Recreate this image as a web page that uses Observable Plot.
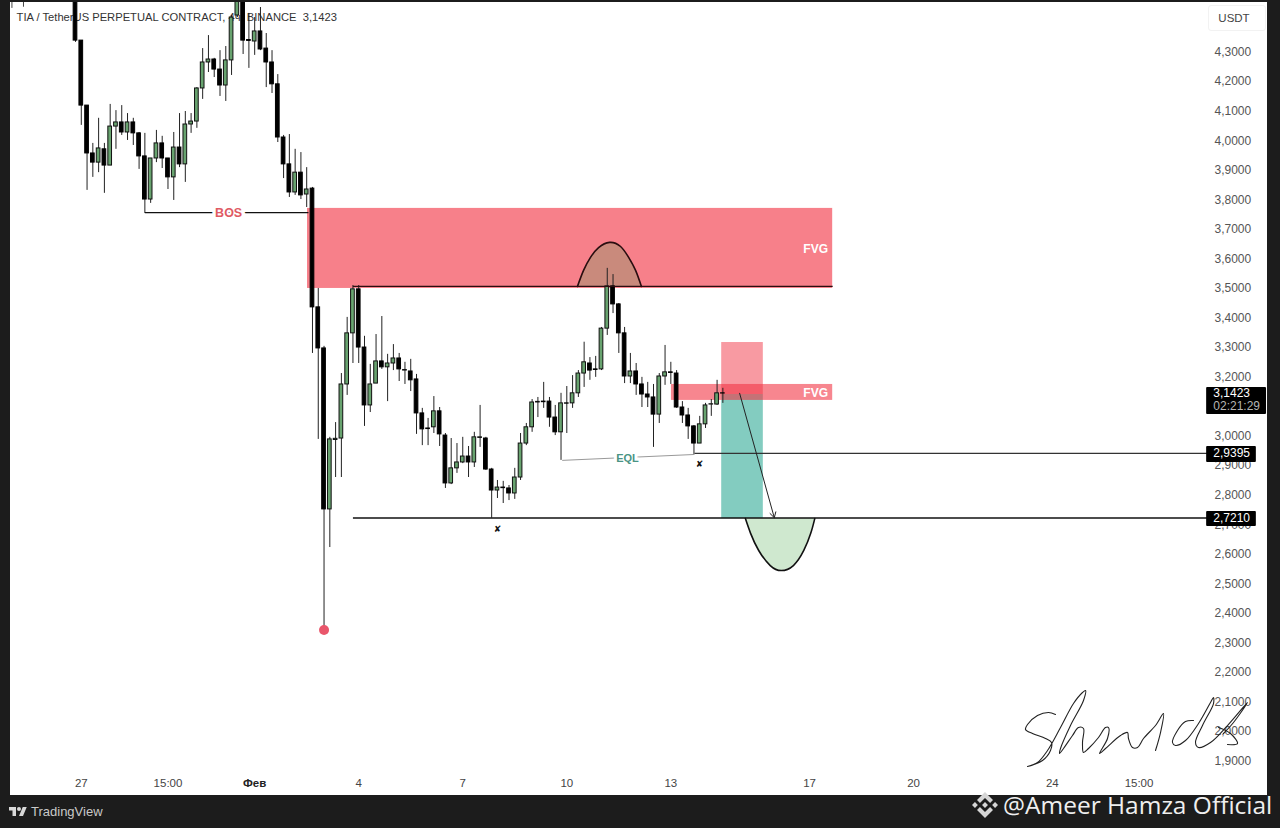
<!DOCTYPE html>
<html><head><meta charset="utf-8">
<script src="https://cdn.jsdelivr.net/npm/d3@7"></script>
<script src="https://cdn.jsdelivr.net/npm/@observablehq/plot@0.6"></script>
<style>
html,body{margin:0;padding:0;background:#1c1c1c;width:1280px;height:828px;overflow:hidden;font-family:"Liberation Sans",sans-serif}
#chart{position:absolute;left:10px;top:2px;width:1257px;height:793px;background:#fff}
#chart svg{display:block}
#usdt{position:absolute;left:1208px;top:5px;width:56px;height:24px;border:1px solid #f2f2f2;border-radius:3px;font-size:11.5px;color:#444;text-align:center;line-height:24px;background:#fff;text-indent:-6px}
#tv{position:absolute;left:9px;top:805px;display:flex;align-items:center;gap:4px;color:#c9c9c9;font-size:13px;line-height:13px}
#wm{position:absolute;left:972px;top:790px;display:flex;align-items:center;color:#efefef;font-size:24.5px;line-height:30px;white-space:nowrap;font-family:"Open Sans","Liberation Sans",sans-serif}
</style></head><body>
<div id="chart"></div>
<div id="usdt">USDT</div>
<div id="tv"><svg width="18" height="13" viewBox="0 0 36 26"><path fill="#d8d8d8" d="M14 22H7V11H0V4h14v18zM28 22h-8l7.5-18h8L28 22z"/><circle fill="#d8d8d8" cx="20" cy="8" r="4"/></svg><span>TradingView</span></div>
<div id="wm"><svg width="26" height="26" viewBox="0 0 126.61 126.61" style="margin-right:5px"><g fill="#d6d6d6"><path d="M38.73 53.2l24.59-24.58 24.6 24.6 14.3-14.31L63.32 0 24.42 38.9z"/><path d="M0 63.31l14.3-14.31 14.31 14.31-14.31 14.3z"/><path d="M38.73 73.41l24.59 24.59 24.6-24.6 14.31 14.29-38.9 38.91-38.91-38.88z"/><path d="M98 63.31l14.3-14.31 14.31 14.3-14.31 14.32z"/><path d="M77.83 63.3L63.32 48.78 52.59 59.51l-1.24 1.23-2.54 2.54 14.51 14.5 14.51-14.47z"/></g></svg><span>@Ameer Hamza Official</span></div>
<script>
// 4h candles, index 0 is the first full candle at the left edge of the picture
const opens = [4.507,4.337,4.117,3.955,3.924,3.969,3.914,4.046,4.060,4.026,4.060,4.023,3.945,3.799,3.938,3.989,3.938,3.874,3.975,3.918,4.053,4.063,4.175,4.263,4.273,4.239,4.185,4.270,4.422,4.490,4.339,4.334,4.368,4.310,4.263,4.189,4.009,3.918,3.823,3.890,3.816,3.836,3.434,3.295,2.750,2.985,2.990,3.173,3.346,3.495,3.298,3.102,3.176,3.251,3.231,3.244,3.261,3.220,3.217,3.190,3.075,3.024,3.028,3.082,3.000,2.838,2.889,2.909,2.929,2.909,2.992,2.990,2.885,2.814,2.824,2.821,2.804,2.858,2.973,3.028,3.112,3.115,3.115,3.061,3.011,3.109,3.109,3.143,3.210,3.244,3.224,3.224,3.362,3.505,3.444,3.346,3.200,3.217,3.173,3.139,3.129,3.071,3.200,3.214,3.210,3.095,3.068,3.031,2.973,3.038,3.105,3.105,3.143];
const highs = [4.600,4.337,4.117,3.989,4.074,3.989,4.121,4.100,4.117,4.090,4.074,4.026,4.023,3.938,4.033,4.013,3.938,4.026,4.090,4.097,4.090,4.178,4.310,4.354,4.277,4.303,4.317,4.422,4.550,4.550,4.429,4.415,4.449,4.361,4.303,4.222,4.016,4.019,3.969,3.958,3.907,3.840,3.498,3.302,2.994,3.044,3.210,3.400,3.508,3.508,3.336,3.241,3.342,3.403,3.275,3.308,3.278,3.248,3.258,3.207,3.092,3.058,3.132,3.095,3.007,2.990,2.973,2.994,2.963,3.011,3.102,2.994,2.889,2.848,2.845,2.831,2.889,3.007,3.041,3.122,3.129,3.180,3.129,3.102,3.143,3.166,3.203,3.220,3.316,3.264,3.268,3.366,3.566,3.545,3.447,3.366,3.278,3.244,3.197,3.180,3.173,3.210,3.305,3.248,3.220,3.115,3.092,3.034,3.065,3.109,3.122,3.187,3.160];
const lows = [4.331,4.050,3.830,3.874,3.890,3.820,3.914,3.969,4.016,3.999,3.982,3.901,3.752,3.786,3.924,3.904,3.833,3.796,3.907,3.857,4.023,4.040,4.138,4.229,4.212,4.148,4.131,4.219,4.415,4.290,4.243,4.287,4.303,4.178,4.158,3.992,3.870,3.806,3.813,3.799,3.772,3.278,2.987,2.340,2.621,2.858,2.858,3.136,3.244,3.244,3.031,3.078,3.176,3.224,3.115,3.220,3.183,3.173,3.149,3.004,2.966,2.966,3.007,2.963,2.821,2.834,2.872,2.905,2.858,2.892,2.960,2.882,2.720,2.787,2.770,2.780,2.784,2.848,2.966,3.011,3.061,3.092,3.028,3.000,2.916,3.007,3.092,3.129,3.163,3.187,3.197,3.220,3.339,3.413,3.278,3.176,3.176,3.136,3.095,3.095,2.960,3.041,3.170,3.173,3.092,3.041,2.987,2.936,2.973,3.024,3.065,3.102,3.109];
const closes = [4.337,4.117,3.955,3.924,3.972,3.914,4.046,4.060,4.026,4.060,4.023,3.945,3.799,3.938,3.989,3.938,3.874,3.975,3.918,4.053,4.063,4.175,4.263,4.273,4.239,4.185,4.270,4.415,4.490,4.337,4.336,4.368,4.307,4.263,4.189,4.009,3.918,3.823,3.890,3.813,3.833,3.434,3.295,2.750,2.987,2.989,3.173,3.346,3.495,3.298,3.102,3.173,3.251,3.231,3.244,3.261,3.224,3.222,3.187,3.075,3.021,3.022,3.082,3.004,2.838,2.889,2.909,2.929,2.909,2.994,2.994,2.885,2.814,2.824,2.822,2.804,2.858,2.973,3.028,3.112,3.114,3.113,3.061,3.011,3.109,3.108,3.143,3.210,3.248,3.220,3.222,3.362,3.505,3.444,3.346,3.200,3.217,3.173,3.139,3.129,3.071,3.200,3.214,3.212,3.095,3.068,3.031,2.973,3.038,3.102,3.106,3.143,3.1423];
const earlyWickIdx = [-11,-9];
const earlyWickLow = [4.446,4.450];

const yTicks = [1.9,2.0,2.1,2.2,2.3,2.4,2.5,2.6,2.7,2.8,2.9,3.0,3.1,3.2,3.3,3.4,3.5,3.6,3.7,3.8,3.9,4.0,4.1,4.2,4.3];
const xTickIdx = [1,16,49,67,85,103,127,145,169,184];
const xTickLabels = ["27","15:00","4","7","10","13","17","20","24","15:00"];
const boldTickIdx = [31];
const boldTickLabels = ["Фев"];

const upperDomeIdx = [86.85,87.9,89.1,90.5,92.4,94.3,95.7,96.9,97.9];
const upperDomePrice = [3.505,3.559,3.603,3.636,3.654,3.640,3.603,3.559,3.505];
const lowerDomeIdx = [115.9,116.8,118.2,120.2,122.1,124.2,126,127.2,127.9];
const lowerDomePrice = [2.719,2.669,2.611,2.560,2.543,2.560,2.611,2.669,2.719];

const zones = [
  {x1:40.14,x2:131,top:3.769,bottom:3.498,fill:"#f23645",op:.63},
  {x1:111.8,x2:119,top:3.315,bottom:3.139,fill:"#f23645",op:.5},
  {x1:111.8,x2:119,top:3.139,bottom:2.719,fill:"#089981",op:.5},
  {x1:103.1,x2:131,top:3.173,bottom:3.119,fill:"#f23645",op:.6}
];
const levels = [
  {x1:48,x2:131,p1:3.505,p2:3.505,c:"#2a0d10",w:1.4},
  {x1:107.1,x2:195.85,p1:2.9395,p2:2.9395,c:"#333",w:1.3},
  {x1:48,x2:195.85,p1:2.721,p2:2.721,c:"#111",w:1.3},
  {x1:12,x2:40.3,p1:3.755,p2:3.755,c:"#111",w:1.3},
  {x1:84.2,x2:107.1,p1:2.916,p2:2.936,c:"#999",w:1}
];
const tags = [
  {x2:206.06,top:3.163,bottom:3.071},
  {x2:204.3,top:2.963,bottom:2.909},
  {x2:204.3,top:2.743,bottom:2.692}
];
const tagLabels = [
  {p:3.145,t:"3,1423",c:"#fff"},
  {p:3.099,t:"02:21:29",c:"#b5b5b5"},
  {p:2.940,t:"2,9395",c:"#fff"},
  {p:2.722,t:"2,7210",c:"#fff"}
];
// signature strokes, picture points
const signature = [
 [[1055,714],[1048,712],[1037,715],[1027,724],[1025,729],[1032,733],[1045,738],[1051,742],[1050,750],[1042,760],[1027,766],[1037,762],[1047,750],[1060,727],[1073,703],[1082,692],[1085,690],[1083,700],[1070,725],[1060,748],[1059,753],[1063,748],[1072,735],[1078,727],[1083,728],[1082,742],[1083,752],[1088,748],[1098,737],[1105,727],[1108,727],[1107,738],[1099,753],[1105,748],[1120,735],[1127,732],[1128,738],[1132,747],[1137,747],[1143,738],[1155,725],[1163,713],[1160,732],[1155,750]],
 [[1193,720],[1185,721],[1177,730],[1172,742],[1175,745],[1185,740],[1198,723],[1210,702],[1213,697],[1213,703],[1202,725],[1195,742],[1198,747],[1210,742],[1227,725],[1247,702],[1233,722],[1223,733]],
 [[1218,727],[1230,733],[1237,743],[1227,744]]
];
const toIdx = px => (px - 75) / 5.78;
const toPrice = py => 4.4728 - py / 295.4;
const sigPts = signature.flatMap((s, k) => s.map(([a, b]) => ({k, x: toIdx(a), p: toPrice(b)})));

const candles = opens.map((o, i) => ({i, o, h: highs[i], l: lows[i], c: closes[i]}));
const up = candles.filter(d => d.c >= d.o);
const down = candles.filter(d => d.c < d.o);
const upperDome = upperDomeIdx.map((x, i) => ({x, p: upperDomePrice[i]}));
const lowerDome = lowerDomeIdx.map((x, i) => ({x, p: lowerDomePrice[i]}));
const fmt = v => v.toFixed(4).replace(".", ",");
const FONT = "Liberation Sans";

const chart = Plot.plot({
  width: 1257, height: 793,
  marginLeft: 0, marginRight: 60, marginTop: 0, marginBottom: 25,
  style: {background: "#fff", fontFamily: FONT, overflow: "hidden"},
  x: {type: "linear", domain: [-11.246, 195.848], axis: null},
  y: {type: "linear", domain: [1.8662, 4.466], axis: null},
  marks: [
    Plot.text(["TIA / TetherUS PERPETUAL CONTRACT, 4ч, BINANCE\u00a0\u00a03,1423"], {x: -10.2, y: 4.415, text: d => d, textAnchor: "start", fontSize: 11.2, fill: "#333"}),
    Plot.axisY(yTicks, {anchor: "right", tickSize: 0, tickPadding: 7, tickFormat: fmt, fontSize: 12, color: "#555", label: null, dy: 0.5}),
    Plot.axisX(xTickIdx, {anchor: "bottom", tickSize: 0, tickPadding: 8, tickFormat: d => xTickLabels[xTickIdx.indexOf(d)], fontSize: 11.5, color: "#444", label: null}),
    Plot.axisX(boldTickIdx, {anchor: "bottom", tickSize: 0, tickPadding: 8, tickFormat: d => boldTickLabels[boldTickIdx.indexOf(d)], fontSize: 11.5, fontWeight: "bold", color: "#222", label: null}),
    ...zones.map(z => Plot.rect([z], {x1: "x1", x2: "x2", y1: "bottom", y2: "top", fill: z.fill, fillOpacity: z.op})),
    Plot.areaY(upperDome, {x: "x", y1: () => 3.505, y2: "p", curve: "natural", fill: "#c98a7c"}),
    Plot.lineY(upperDome, {x: "x", y: "p", curve: "natural", stroke: "#2a0d10", strokeWidth: 1.6}),
    Plot.areaY(lowerDome, {x: "x", y1: () => 2.719, y2: "p", curve: "natural", fill: "#cfe8cf"}),
    Plot.lineY(lowerDome, {x: "x", y: "p", curve: "natural", stroke: "#111", strokeWidth: 1.6}),
    Plot.ruleX(earlyWickIdx, {x: d => d, y1: d => earlyWickLow[earlyWickIdx.indexOf(d)], y2: () => 4.55, stroke: "#444"}),
    Plot.ruleX(candles, {x: "i", y1: "l", y2: "h", stroke: "#222", strokeWidth: 1}),
    Plot.rect(up, {x1: d => d.i - .32, x2: d => d.i + .32, y1: "o", y2: "c", fill: "#68a36f", stroke: "#111", strokeWidth: 1}),
    Plot.rect(down, {x1: d => d.i - .32, x2: d => d.i + .32, y1: "o", y2: "c", fill: "#000", stroke: "#000", strokeWidth: 1}),
    ...levels.map(l => Plot.link([l], {x1: "x1", x2: "x2", y1: "p1", y2: "p2", stroke: l.c, strokeWidth: l.w})),
    Plot.text(["BOS"], {x: 26.5, y: 3.752, text: d => d, fontSize: 12.5, fontWeight: "bold", fill: "#df5a64", stroke: "#fff", strokeWidth: 7, paintOrder: "stroke"}),
    Plot.text(["EQL"], {x: 95.5, y: 2.922, text: d => d, fontSize: 11, fontWeight: "bold", fill: "#4a9484", stroke: "#fff", strokeWidth: 6, paintOrder: "stroke"}),
    Plot.text(["FVG"], {x: 128.05, y: 3.630, text: d => d, fontSize: 12, fontWeight: "bold", fill: "#fff"}),
    Plot.text(["FVG"], {x: 128.05, y: 3.142, text: d => d, fontSize: 12, fontWeight: "bold", fill: "#fff"}),
    Plot.text([[73, 2.685], [107.96, 2.902]], {x: d => d[0], y: d => d[1], text: () => "✘", fontFamily: "DejaVu Sans", fontSize: 9, fill: "#111"}),
    Plot.arrow([{a: 114.9, b: 3.143, c: 120.9, d: 2.722}], {x1: "a", y1: "b", x2: "c", y2: "d", bend: 0, stroke: "#222", strokeWidth: 1, headLength: 9}),
    Plot.dot([{x: 43, p: 2.342}], {x: "x", y: "p", r: 5, fill: "#e9566b"}),
    ...tags.map(t => Plot.rect([t], {x1: () => 195.7, x2: "x2", y1: "bottom", y2: "top", fill: "#000", rx: 1})),
    Plot.text(tagLabels, {x: () => 196.85, y: "p", text: "t", fill: "c", textAnchor: "start", fontSize: 12}),
    Plot.line(sigPts, {x: "x", y: "p", z: "k", curve: "catmull-rom", stroke: "#222", strokeWidth: 1.1})
  ]
});
document.getElementById("chart").appendChild(chart);
</script>
</body></html>
